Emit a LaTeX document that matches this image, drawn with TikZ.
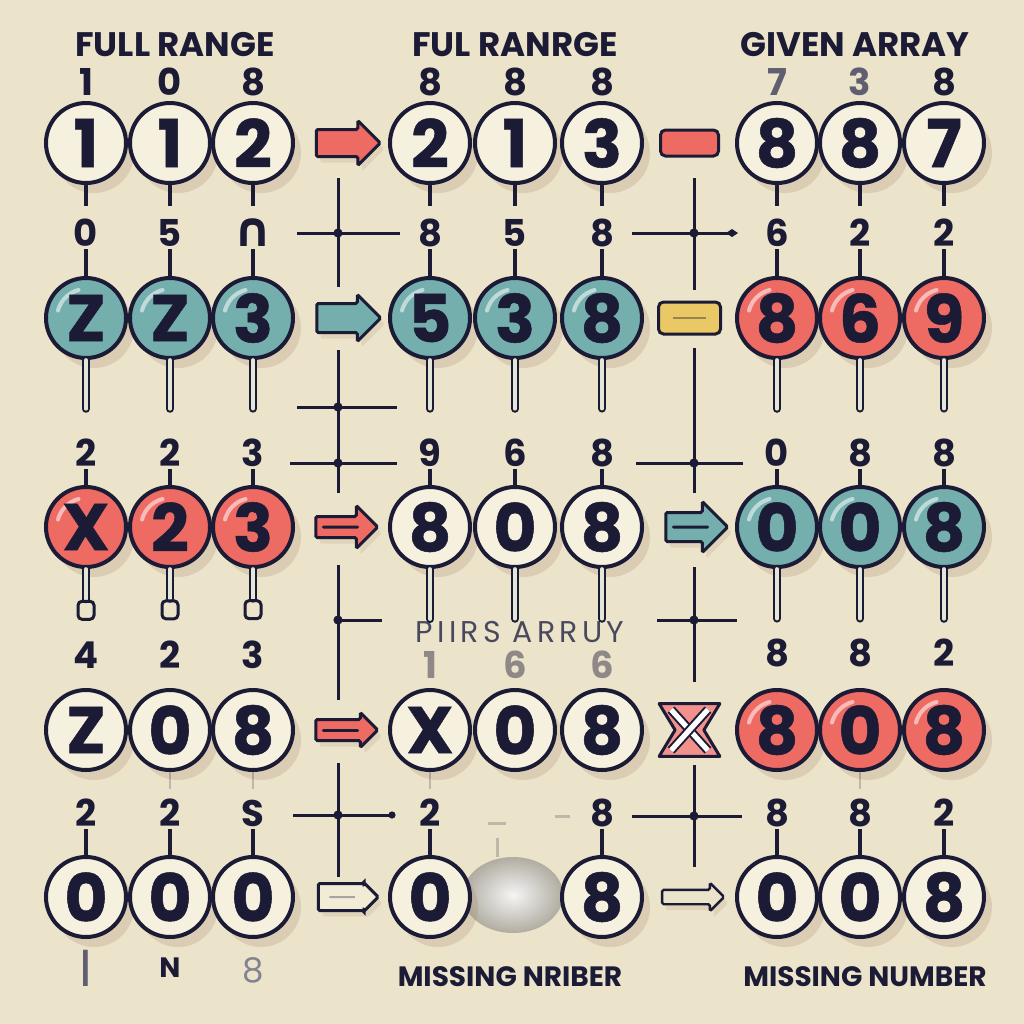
\documentclass[tikz,border=0pt]{standalone}
\usepackage{fontspec}
\setmainfont{Poppins}
\newfontfamily\symbfont{DejaVu Sans}
\usetikzlibrary{arrows.meta,calc,shapes.arrows,shapes.geometric,shadows}
\definecolor{bgbeige}{HTML}{ECE3CB}
\definecolor{ballcream}{HTML}{F6F1DE}
\definecolor{ballteal}{HTML}{74AFAE}
\definecolor{ballred}{HTML}{EE6B64}
\definecolor{barsun}{HTML}{E9C865}
\definecolor{inkblue}{HTML}{1C1B36}
\definecolor{shadebrown}{HTML}{A88D6C}

\begin{document}
\begin{tikzpicture}[
    x=0.5pt, y=-0.5pt,
    ball/.style={circle, draw=inkblue, line width=2pt, minimum size=40pt, inner sep=0pt, text=inkblue, font=\fontsize{33}{33}\selectfont\bfseries\addfontfeature{FakeBold=0.8}, drop shadow={shadow xshift=4pt, shadow yshift=-5pt, opacity=0.25, fill=shadebrown}},
    gloss/.style={path picture={\draw[white, opacity=0.55, line width=2pt, line cap=round] ($(path picture bounding box.center)+(165:14.5pt)$) arc (165:105:14.5pt);}},
    creamball/.style={ball, fill=ballcream},
    tealball/.style={ball, fill=ballteal, gloss},
    redball/.style={ball, fill=ballred, gloss},
    blob/.style={ellipse, minimum width=50pt, minimum height=38pt, inner sep=0pt, shading=radial, inner color=white!92!gray, outer color=gray!55!bgbeige},
    num/.style={text=inkblue, inner sep=1pt, font=\fontsize{18.5}{19}\selectfont\bfseries},
    ttl/.style={text=inkblue, font=\fontsize{17}{17}\selectfont\bfseries},
    foot/.style={text=inkblue, font=\fontsize{14}{14}\selectfont\bfseries},
    stem/.style={draw=inkblue, line width=2pt},
    tube/.style={draw=inkblue, line width=1.1pt, double=ballcream!85!ballteal, double distance=1.8pt, line cap=round, shorten >=#1},
    faint/.style={draw=inkblue, opacity=0.22, line width=1pt},
    crossline/.style={draw=inkblue, line width=1.5pt},
    blockarr/.style={single arrow, draw=inkblue, line width=1.5pt, rounded corners=0.8pt, minimum height=32pt, minimum width=0pt, inner xsep=0pt, inner ysep=6pt, single arrow head extend=4.5pt, single arrow head indent=0pt, drop shadow={shadow xshift=2pt, shadow yshift=-3pt, opacity=0.18, fill=shadebrown}},
    slimarr/.style={blockarr, minimum height=31pt, inner ysep=4.5pt, single arrow head extend=5.5pt},
    bar/.style={rectangle, rounded corners=2.5pt, draw=inkblue, line width=1.5pt, minimum width=29pt, minimum height=13pt, inner sep=0pt},
    inkline/.style={draw=inkblue, line width=1.5pt, line cap=round}
  ]
  \fill[bgbeige] (0,0) rectangle (1024,1024);
  \useasboundingbox (0,0) rectangle (1024,1024);

  \node[ttl] (t1) at (175,45) {FULL RANGE};
  \node[ttl] (t2) at (515,45) {FUL RANRGE};
  \node[ttl] (t3) at (855,45) {GIVEN ARRAY};

  \node[num] (n11) at (86,82) {1};
  \node[num] (n12) at (170,82) {0};
  \node[num] (n13) at (253,82) {8};
  \node[num] (n14) at (430,82) {8};
  \node[num] (n15) at (515,82) {8};
  \node[num] (n16) at (602,82) {8};
  \node[num, text=inkblue!70] (n17) at (777,82) {7};
  \node[num, text=inkblue!70] (n18) at (860,82) {3};
  \node[num] (n19) at (944,82) {8};

  \node[creamball] (b11) at (86,143) {1};
  \node[creamball] (b12) at (170,143) {1};
  \node[creamball] (b13) at (253,143) {2};
  \node[creamball] (b14) at (430,143) {2};
  \node[creamball] (b15) at (515,143) {1};
  \node[creamball] (b16) at (602,143) {3};
  \node[creamball] (b17) at (777,143) {8};
  \node[creamball] (b18) at (860,143) {8};
  \node[creamball] (b19) at (944,143) {7};

  \node[num] (n21) at (86,233) {0};
  \node[num] (n22) at (170,233) {5};
  \node[num, font=\fontsize{24}{24}\selectfont\symbfont\bfseries] (n23) at (253,233) {∩};
  \node[num] (n24) at (430,233) {8};
  \node[num] (n25) at (515,233) {5};
  \node[num] (n26) at (602,233) {8};
  \node[num] (n27) at (777,233) {6};
  \node[num] (n28) at (860,233) {2};
  \node[num] (n29) at (944,233) {2};

  \node[tealball] (b21) at (86,318) {Z};
  \node[tealball] (b22) at (170,318) {Z};
  \node[tealball] (b23) at (253,318) {3};
  \node[tealball] (b24) at (430,318) {5};
  \node[tealball] (b25) at (515,318) {3};
  \node[tealball] (b26) at (602,318) {8};
  \node[redball] (b27) at (777,318) {8};
  \node[redball] (b28) at (860,318) {6};
  \node[redball] (b29) at (944,318) {9};

  \node[num] (n31) at (86,453) {2};
  \node[num] (n32) at (170,453) {2};
  \node[num] (n33) at (253,453) {3};
  \node[num] (n34) at (430,453) {9};
  \node[num] (n35) at (515,453) {6};
  \node[num] (n36) at (602,453) {8};
  \node[num] (n37) at (777,453) {0};
  \node[num] (n38) at (860,453) {8};
  \node[num] (n39) at (944,453) {8};

  \node[redball] (b31) at (86,527) {X};
  \node[redball] (b32) at (170,527) {2};
  \node[redball] (b33) at (253,527) {3};
  \node[creamball] (b34) at (430,527) {8};
  \node[creamball] (b35) at (515,527) {0};
  \node[creamball] (b36) at (602,527) {8};
  \node[tealball] (b37) at (777,527) {0};
  \node[tealball] (b38) at (860,527) {0};
  \node[tealball] (b39) at (944,527) {8};

  \node[text=inkblue!80, font=\fontsize{15}{15}\selectfont\addfontfeature{LetterSpace=14}] (pa) at (520,632) {PIIRS ARRUY};

  \node[num] (n41) at (86,655) {4};
  \node[num] (n42) at (170,655) {2};
  \node[num] (n43) at (253,655) {3};
  \node[num, opacity=0.45] (n44) at (430,665) {1};
  \node[num, opacity=0.45] (n45) at (515,665) {6};
  \node[num, opacity=0.45] (n46) at (602,665) {6};
  \node[num] (n47) at (777,653) {8};
  \node[num] (n48) at (860,653) {8};
  \node[num] (n49) at (944,653) {2};

  \node[creamball] (b41) at (86,730) {Z};
  \node[creamball] (b42) at (170,730) {0};
  \node[creamball] (b43) at (253,730) {8};
  \node[creamball] (b44) at (430,730) {X};
  \node[creamball] (b45) at (515,730) {0};
  \node[creamball] (b46) at (602,730) {8};
  \node[redball] (b47) at (777,730) {8};
  \node[redball] (b48) at (860,730) {0};
  \node[redball] (b49) at (944,730) {8};

  \node[num] (n51) at (86,813) {2};
  \node[num] (n52) at (170,813) {2};
  \node[num] (n53) at (253,813) {S};
  \node[num] (n54) at (430,813) {2};
  \node[num] (n56) at (602,813) {8};
  \node[num] (n57) at (777,813) {8};
  \node[num] (n58) at (860,813) {8};
  \node[num] (n59) at (944,813) {2};

  \node[creamball] (b51) at (86,897) {0};
  \node[creamball] (b52) at (170,897) {0};
  \node[creamball] (b53) at (253,897) {0};
  \node[blob] (b55) at (513,895) {};
  \node[creamball] (b54) at (430,897) {0};
  \node[creamball] (b56) at (602,897) {8};
  \node[creamball] (b57) at (777,897) {0};
  \node[creamball] (b58) at (860,897) {0};
  \node[creamball] (b59) at (944,897) {8};

  \node[text=inkblue!70, font=\fontsize{26}{26}\selectfont\addfontfeature{FakeSlant=0}] (q1) at (86,968) {I};
  \node[foot] (q2) at (170,968) {N};
  \node[text=inkblue!55, font=\fontsize{17}{17}\selectfont] (q3) at (253,970) {8};
  \node[foot] (m1) at (510,977) {MISSING NRIBER};
  \node[foot] (m2) at (865,977) {MISSING NUMBER};

  \draw[crossline] (338,178) -- (338,287);
  \draw[crossline] (297,233) -- (400,233);
  \draw[crossline] (338,350) -- (338,493);
  \draw[crossline] (297,407) -- (397,407);
  \draw[crossline] (290,463) -- (397,463);
  \draw[crossline] (338,565) -- (338,700);
  \draw[crossline] (338,620) -- (382,620);
  \draw[crossline] (338,763) -- (338,877);
  \draw[crossline] (293,815) -- (392,815);
  \fill[inkblue] (338,233) circle (2.3pt) (338,407) circle (2.3pt) (338,463) circle (2.3pt) (338,620) circle (2.3pt) (338,815) circle (2.3pt) (392,815) circle (1.8pt);
  \draw[crossline] (694,178) -- (694,290);
  \draw[crossline] (632,233) -- (735,233);
  \draw[crossline] (694,348) -- (694,493);
  \draw[crossline] (636,463) -- (743,463);
  \draw[crossline] (694,567) -- (694,682);
  \draw[crossline] (657,620) -- (737,620);
  \draw[crossline] (694,765) -- (694,867);
  \draw[crossline] (632,816) -- (742,816);
  \fill[inkblue] (694,233) circle (2.3pt) (694,463) circle (2.3pt) (694,620) circle (2.3pt) (694,816) circle (2.3pt);
  \fill[inkblue] (726,233) -- (732,229) -- (738,233) -- (732,237) -- cycle;

  \draw[stem, shorten >=5.5pt] (b11.south) -- (n21.north);
  \draw[stem, shorten >=5.5pt] (b12.south) -- (n22.north);
  \draw[stem, shorten >=5.5pt] (b13.south) -- (n23.north);
  \draw[stem, shorten >=5.5pt] (b14.south) -- (n24.north);
  \draw[stem, shorten >=5.5pt] (b15.south) -- (n25.north);
  \draw[stem, shorten >=5.5pt] (b16.south) -- (n26.north);
  \draw[stem, shorten >=5.5pt] (b17.south) -- (n27.north);
  \draw[stem, shorten >=5.5pt] (b18.south) -- (n28.north);
  \draw[stem, shorten >=5.5pt] (b19.south) -- (n29.north);

  \draw[stem] (n21.south) -- (b21.north);
  \draw[stem] (n22.south) -- (b22.north);
  \draw[stem] (n23.south) -- (b23.north);
  \draw[stem] (n24.south) -- (b24.north);
  \draw[stem] (n25.south) -- (b25.north);
  \draw[stem] (n26.south) -- (b26.north);
  \draw[stem] (n27.south) -- (b27.north);
  \draw[stem] (n28.south) -- (b28.north);
  \draw[stem] (n29.south) -- (b29.north);

  \draw[tube=14pt] (b21.south) -- (n31.north);
  \draw[tube=14pt] (b22.south) -- (n32.north);
  \draw[tube=14pt] (b23.south) -- (n33.north);
  \draw[tube=14pt] (b24.south) -- (n34.north);
  \draw[tube=14pt] (b25.south) -- (n35.north);
  \draw[tube=14pt] (b26.south) -- (n36.north);
  \draw[tube=14pt] (b27.south) -- (n37.north);
  \draw[tube=14pt] (b28.south) -- (n38.north);
  \draw[tube=14pt] (b29.south) -- (n39.north);

  \draw[stem] (n31.south) -- (b31.north);
  \draw[stem] (n32.south) -- (b32.north);
  \draw[stem] (n33.south) -- (b33.north);
  \draw[stem] (n34.south) -- (b34.north);
  \draw[stem] (n35.south) -- (b35.north);
  \draw[stem] (n36.south) -- (b36.north);
  \draw[stem] (n37.south) -- (b37.north);
  \draw[stem] (n38.south) -- (b38.north);
  \draw[stem] (n39.south) -- (b39.north);

  \draw[tube=20pt] (b31.south) -- (n41.north);
  \draw[tube=20pt] (b32.south) -- (n42.north);
  \draw[tube=20pt] (b33.south) -- (n43.north);
  \draw[stem, line width=1.5pt, rounded corners=2pt] ([shift={(-8,-38)}]n41.north) rectangle ([shift={(8,-20)}]n41.north);
  \draw[stem, line width=1.5pt, rounded corners=2pt] ([shift={(-8,-38)}]n42.north) rectangle ([shift={(8,-20)}]n42.north);
  \draw[stem, line width=1.5pt, rounded corners=2pt] ([shift={(-8,-38)}]n43.north) rectangle ([shift={(8,-20)}]n43.north);
  \draw[tube=15pt] (b34.south) -- (n44.north);
  \draw[tube=15pt] (b35.south) -- (n45.north);
  \draw[tube=15pt] (b36.south) -- (n46.north);
  \draw[tube=9pt] (b37.south) -- (n47.north);
  \draw[tube=9pt] (b38.south) -- (n48.north);
  \draw[tube=9pt] (b39.south) -- (n49.north);

  \draw[faint, shorten >=4pt] (b42.south) -- (n52.north);
  \draw[faint, shorten >=4pt] (b43.south) -- (n53.north);
  \draw[faint, shorten >=4pt] (b44.south) -- (n54.north);
  \draw[faint, shorten >=4pt] (b48.south) -- (n58.north);

  \draw[stem] (n51.south) -- (b51.north);
  \draw[stem] (n52.south) -- (b52.north);
  \draw[stem] (n53.south) -- (b53.north);
  \draw[stem] (n54.south) -- (b54.north);
  \draw[stem] (n56.south) -- (b56.north);
  \draw[stem] (n57.south) -- (b57.north);
  \draw[stem] (n58.south) -- (b58.north);
  \draw[stem] (n59.south) -- (b59.north);
  \draw[faint, line width=1.5pt] (488,823) -- (506,823);
  \draw[faint, line width=1.5pt] (555,816) -- (570,816);
  \draw[faint, line width=1.5pt] (497,838) -- (497,857);

  \node[blockarr, fill=ballred] (a1) at ($(b13.east)!0.5!(b14.west)$) {};
  \node[bar, fill=ballred] (a2) at ($(b16.east)!0.5!(b17.west)$) {};
  \node[blockarr, fill=ballteal, inner ysep=6.5pt] (a3) at ($(b23.east)!0.5!(b24.west)$) {};
  \node[bar, fill=barsun, minimum width=31pt, minimum height=16pt] (a4) at ($(b26.east)!0.5!(b27.west)$) {};
  \draw[draw=barsun!60!inkblue, line width=1pt] ($(a4.west)!0.25!(a4.east)$) -- ($(a4.west)!0.75!(a4.east)$);
  \node[slimarr, fill=ballred] (a5) at ($(b33.east)!0.5!(b34.west)$) {};
  \draw[inkline] ($(a5.tail)!0.14!(a5.tip)$) -- ($(a5.tail)!0.66!(a5.tip)$);
  \node[slimarr, fill=ballteal, inner ysep=6.5pt] (a6) at ($(b36.east)!0.5!(b37.west)$) {};
  \draw[inkline] ($(a6.tail)!0.14!(a6.tip)$) -- ($(a6.tail)!0.66!(a6.tip)$);
  \node[slimarr, fill=ballred, single arrow head extend=3.5pt] (a7) at ($(b43.east)!0.5!(b44.west)$) {};
  \draw[inkline] ($(a7.tail)!0.14!(a7.tip)$) -- ($(a7.tail)!0.66!(a7.tip)$);
  \node[rectangle, minimum width=30pt, minimum height=26pt, inner sep=0pt] (a8) at ($(b46.east)!0.5!(b47.west)$) {};
  \filldraw[fill=ballred!75!white, draw=inkblue, line width=1.5pt, line join=round] (a8.north west) -- (a8.north east) -- ([xshift=-8pt]a8.east) -- (a8.south east) -- (a8.south west) -- ([xshift=8pt]a8.west) -- cycle;
  \draw[draw=inkblue, line width=1pt, double=white, double distance=2.6pt] ([shift={(6pt,-3pt)}]a8.north west) -- ([shift={(-6pt,3pt)}]a8.south east);
  \draw[draw=inkblue, line width=1pt, double=white, double distance=2.6pt] ([shift={(-6pt,-3pt)}]a8.north east) -- ([shift={(6pt,3pt)}]a8.south west);
  \node[blockarr, fill=ballcream!60!bgbeige, minimum height=30pt, single arrow head extend=0.3pt] (a9) at ($(b53.east)!0.5!(b54.west)$) {};
  \draw[draw=gray!70, line width=1pt] ($(a9.tail)!0.2!(a9.tip)$) -- ($(a9.tail)!0.6!(a9.tip)$);
  \node[slimarr, fill=bgbeige, line width=1.2pt, inner ysep=3pt, single arrow head extend=3.5pt, drop shadow={opacity=0}] (a10) at ($(b56.east)!0.5!(b57.west)$) {};
\end{tikzpicture}
\end{document}
